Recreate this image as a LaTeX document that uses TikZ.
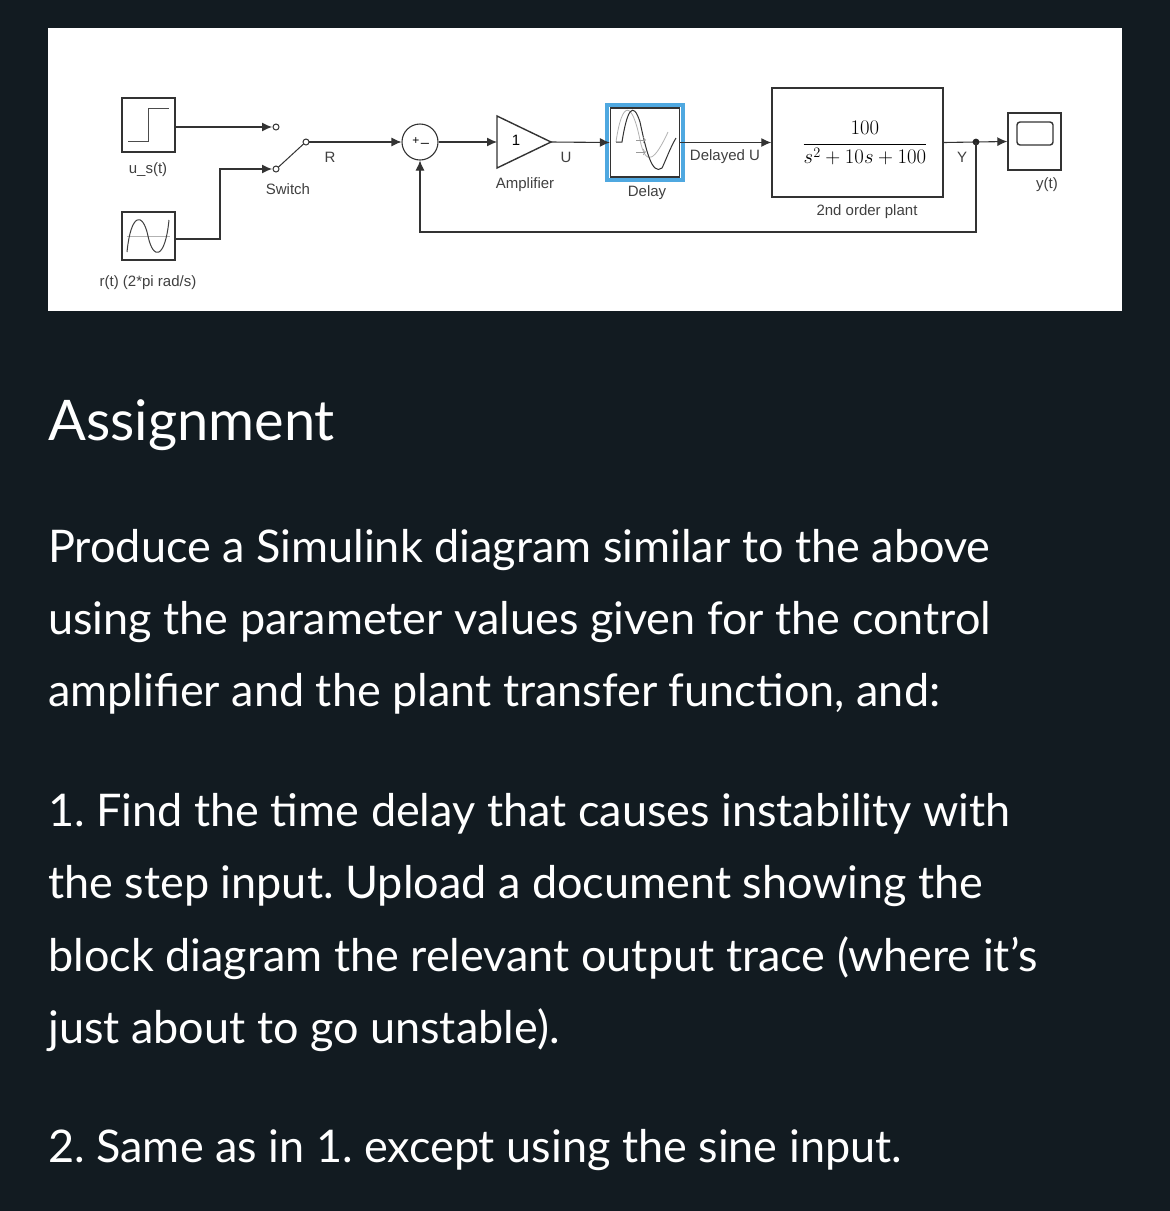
\documentclass[tikz,border=0pt]{standalone}
\usepackage{fontspec}
\setmainfont{Lato}
\newfontfamily\arialf{Liberation Sans}
\newfontfamily\serf{Liberation Serif}
\usetikzlibrary{arrows.meta}
\definecolor{bgc}{HTML}{121B21}
\definecolor{selblue}{HTML}{4FA8E0}
\frenchspacing
\begin{document}
\begin{tikzpicture}[x=1pt,y=-1pt,
  blk/.style={draw=black!80,line width=1.4pt,fill=white},
  sig/.style={draw=black!80,line width=1.1pt},
  arr/.style={sig,-{Latex[length=10pt,width=9pt]}},
  lbl/.style={font=\arialf\fontsize{15}{17}\selectfont,text=black!75,inner sep=0pt},
  body/.style={anchor=west,text=white,font=\fontsize{45}{52}\selectfont,inner sep=0pt}]
\fill[bgc] (0,0) rectangle (1170,1211);
\useasboundingbox (0,0) rectangle (1170,1211);
\fill[white] (48,28) rectangle (1122,311);
% sources
\node[blk,minimum width=53pt,minimum height=54pt,inner sep=0pt] (step) at (148.5,125) {};
\draw[black!70,line width=1pt] (128,141) -- (148,141) -- (148,108) -- (169,108);
\node[lbl] at (148,170) {u\_s(t)};
\node[blk,minimum width=53pt,minimum height=48pt,inner sep=0pt] (sine) at (148.5,236) {};
\draw[black!30] (127,236) -- (170,236);
\draw[black!75,line width=1pt] (127,252) .. controls (131,212) and (143,212) .. (148,236) .. controls (153,260) and (165,260) .. (169,220);
\node[lbl] at (148,283) {r(t) (2*pi rad/s)};
% switch
\coordinate (c1) at (276,127);
\coordinate (c2) at (276,169);
\coordinate (c3) at (306,142);
\draw[arr] (step.east |- c1) -- (272,127);
\coordinate (sb) at (220,239);
\draw[arr] (sine.east |- sb) -- (220,239) -- (220,169) -- (272,169);
\draw[black!80,line width=1pt,fill=white] (c1) circle (3) (c2) circle (3) (c3) circle (3);
\draw[black!80,line width=1pt] (278.5,167) -- (303.5,144);
\node[lbl] at (330,157) {R};
\node[lbl] at (288,189) {Switch};
% sum
\node[draw=black!80,line width=1.1pt,circle,minimum size=36pt,inner sep=0pt,fill=white] (sum) at (420,142) {};
\node[font=\arialf\fontsize{12}{12}\selectfont,inner sep=0pt] at (416,141) {+};
\node[font=\arialf\fontsize{14}{12}\selectfont,inner sep=0pt] at (425,143) {\_};
\draw[arr] (309,142) -- (sum.west);
% amplifier
\draw[blk] (497,116) -- (551,142) -- (497,168) -- cycle;
\node[lbl,text=black] at (516,140) {1};
\node[lbl] at (566,157) {U};
\node[lbl] at (525,185) {Amplifier};
\draw[arr] (sum.east) -- (497,142);
% delay
\draw[selblue,line width=4pt] (607,105) rectangle (683,180);
\node[blk,minimum width=69pt,minimum height=69pt,inner sep=0pt] (delay) at (645,142.5) {};
\draw[black!30,line width=0.8pt] (616,142) .. controls (622,100) and (632,100) .. (640,140) .. controls (646,168) and (655,160) .. (668,132);
\draw[black!80,line width=1pt] (616,142) -- (622,142) .. controls (627,110) and (633,100) .. (640,122) .. controls (646,150) and (652,176) .. (662,168) .. controls (666,160) and (670,148) .. (676,138);
\draw[black!40,->,line width=0.6pt] (636,140) -- (646,140);
\draw[black!40,->,line width=0.6pt] (636,152) -- (646,152);
\node[lbl] at (647,193) {Delay};
\draw[arr] (551,142) -- (delay.west);
% plant
\node[blk,minimum width=171pt,minimum height=109pt,inner sep=0pt] (plant) at (857.5,142.5) {};
\node[font=\serf\fontsize{22}{24}\selectfont,inner sep=0pt] at (865,143) {$\displaystyle\frac{100}{s^2+10s+100}$};
\node[lbl] at (725,157) {Delayed U};
\node[lbl] at (867,212) {2nd order plant};
\draw[arr] (delay.east) -- (plant.west);
% scope
\node[blk,minimum width=53pt,minimum height=57pt,inner sep=0pt] (scope) at (1034.5,141.5) {};
\draw[black!80,line width=1.4pt,rounded corners=3pt] (1017,122) rectangle (1053,145);
\node[lbl] at (1047,185) {y(t)};
\node[lbl] at (962,157) {Y};
\coordinate (br) at (976,142);
\draw[arr] (plant.east) -- (scope.west);
\fill[black!85] (br) circle (3.4);
\draw[arr] (br) -- (976,232) -- (420,232) -- (sum.south);
% text
\node[body,font=\fontsize{56}{60}\selectfont] at (48,425) {Assignment};
\node[body] at (48,550) {Produce a Simulink diagram similar to the above};
\node[body] at (48,622) {using the parameter values given for the control};
\node[body] at (48,694) {amplifier and the plant transfer function, and:};
\node[body] at (48,814) {1. Find the t{}ime delay that causes instability with};
\node[body] at (48,886) {the step input. Upload a document showing the};
\node[body] at (48,958) {block diagram the relevant output trace (where it\char"27 s};
\node[body] at (48,1030) {just about to go unstable).};
\node[body] at (48,1150) {2. Same as in 1. except using the sine input.};
\end{tikzpicture}
\end{document}
